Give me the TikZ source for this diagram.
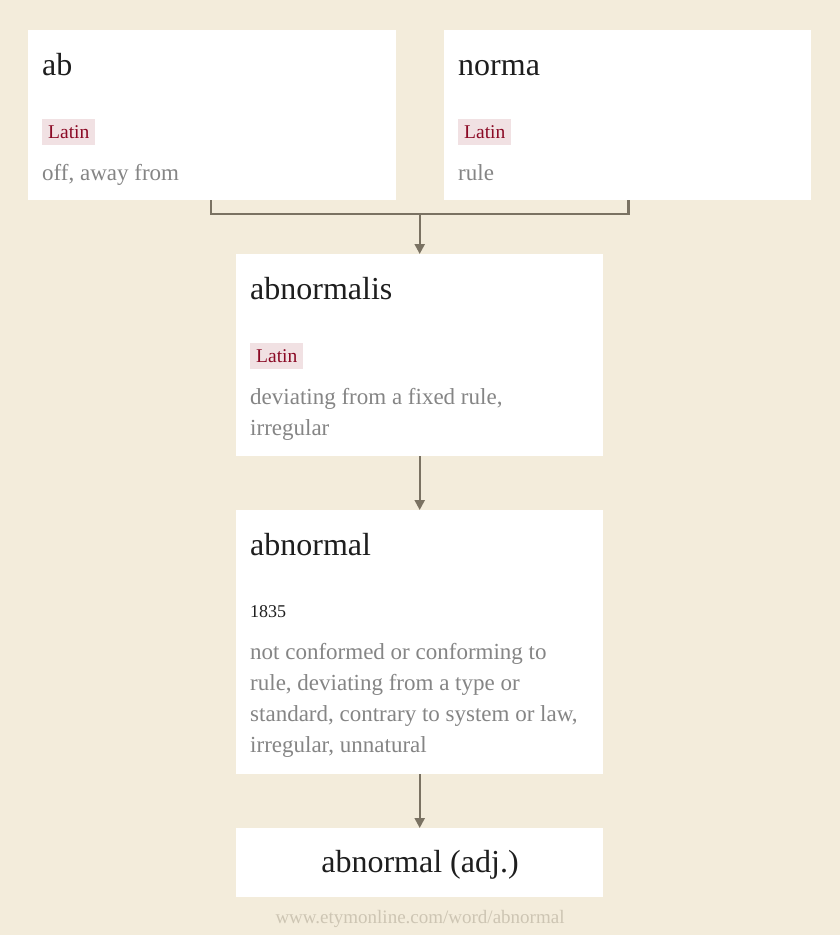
\documentclass[tikz,border=0pt]{standalone}
\usepackage{fontspec}
\setmainfont{Liberation Serif}
\usetikzlibrary{arrows.meta}
\definecolor{bg}{HTML}{F3ECDB}
\definecolor{conn}{HTML}{7A7262}
\definecolor{tagbg}{HTML}{F1E1E3}
\definecolor{tagfg}{HTML}{8B0A25}
\definecolor{desc}{HTML}{858585}
\definecolor{ttl}{HTML}{1E1E1E}
\definecolor{foot}{HTML}{CDC5B3}
\tikzset{
  card/.style={fill=white, draw=none, anchor=north west, inner sep=0pt},
  ttlstyle/.style={anchor=base west, inner sep=0pt, text=ttl, font=\fontsize{32}{36}\selectfont},
  tagstyle/.style={anchor=base west, fill=tagbg, text=tagfg, inner xsep=6pt, inner ysep=0pt, text height=19pt, text depth=7pt, font=\fontsize{19.5}{22}\selectfont},
  descstyle/.style={anchor=base west, inner sep=0pt, text=desc, font=\fontsize{23}{31}\selectfont},
  conline/.style={draw=conn, line width=2.3pt},
  arr/.style={conline, -{Triangle[length=10pt,width=10pt]}},
}
\begin{document}
\begin{tikzpicture}[x=1pt,y=-1pt]
\fill[bg] (0,0) rectangle (840,935);
\useasboundingbox (0,0) rectangle (840,935);
% cards
\node[card, minimum width=368pt, minimum height=170pt] (ab) at (28,30) {};
\node[card, minimum width=367pt, minimum height=170pt] (norma) at (444,30) {};
\node[card, minimum width=367pt, minimum height=202pt] (abnormalis) at (236,254) {};
\node[card, minimum width=367pt, minimum height=264pt] (abnormal) at (236,510) {};
\node[card, minimum width=367pt, minimum height=69pt] (adj) at (236,828) {};
% ab
\node[ttlstyle] (abt) at (42,75) {ab};
\node[tagstyle] (abtag) at (42,138) {Latin};
\node[descstyle] (abd) at (42,180) {off, away from};
% norma
\node[ttlstyle] (normat) at (458,75) {norma};
\node[tagstyle] (normatag) at (458,138) {Latin};
\node[descstyle] (normad) at (458,180) {rule};
% abnormalis
\node[ttlstyle] (abnt) at (250,299) {abnormalis};
\node[tagstyle] (abntag) at (250,362) {Latin};
\node[descstyle] (abnd1) at (250,404) {deviating from a fixed rule,};
\node[descstyle] (abnd2) at (250,435) {irregular};
% abnormal
\node[ttlstyle] (abmt) at (250,555) {abnormal};
\node[anchor=base west, inner sep=0pt, text=ttl, font=\fontsize{18}{20}\selectfont] (abmy) at (250,617) {1835};
\node[descstyle] (abmd1) at (250,659) {not conformed or conforming to};
\node[descstyle] (abmd2) at (250,690) {rule, deviating from a type or};
\node[descstyle] (abmd3) at (250,721) {standard, contrary to system or law,};
\node[descstyle] (abmd4) at (250,752) {irregular, unnatural};
% adj
\node[anchor=base, inner sep=0pt, text=ttl, font=\fontsize{32}{36}\selectfont] (adjt) at (420,872) {abnormal (adj.)};
% footer
\node[anchor=base, inner sep=0pt, text=foot, font=\fontsize{19}{21}\selectfont] (ft) at (420,923) {www.etymonline.com/word/abnormal};
% connectors
\coordinate (j) at (abnormalis.north |- 0,214);
\draw[conline] ([xshift=183pt]ab.south west) |- (j) -| ([xshift=-183pt]norma.south east);
\draw[arr] (j) -- (abnormalis.north);
\draw[arr] (abnormalis.south) -- (abnormal.north);
\draw[arr] (abnormal.south) -- (adj.north);
\end{tikzpicture}
\end{document}
